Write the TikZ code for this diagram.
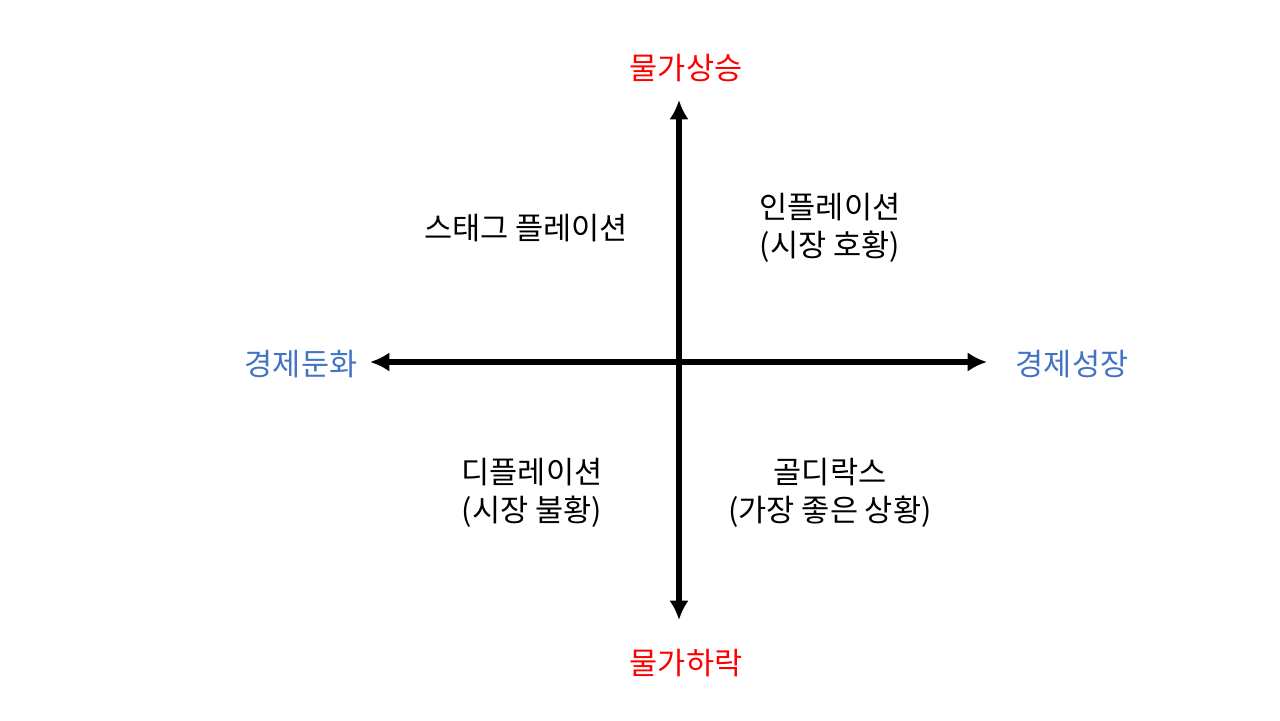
\documentclass[tikz,border=0pt]{standalone}
\usepackage{fontspec}
\setmainfont{Noto Sans CJK KR}
\usetikzlibrary{positioning,arrows.meta}
\definecolor{axisred}{RGB}{255,0,0}
\definecolor{axisblue}{RGB}{68,114,196}
\tikzset{
  axis/.style={line width=3.6pt,{Latex[length=11pt,width=11pt]}-{Latex[length=11pt,width=11pt]}},
  quad/.style={font=\fontsize{17.4pt}{22pt}\selectfont,align=center},
  redlabel/.style={font=\fontsize{17.4pt}{21pt}\selectfont,text=axisred},
  bluelabel/.style={font=\fontsize{17.4pt}{21pt}\selectfont,text=axisblue}
}
\begin{document}
\begin{tikzpicture}
 \useasboundingbox (0,0) rectangle (25.6,14.4);

 %Coordinates
 \coordinate (center) at (13.58,7.16);
 \coordinate (top) at (13.58,12.4);
 \coordinate (bottom) at (13.58,2.0);
 \coordinate (left) at (7.4,7.16);
 \coordinate (right) at (19.74,7.16);

 %Axis
 \draw[axis] (bottom) -- (top);
 \draw[axis] (left) -- (right);

 %Names
 \node (up) [redlabel] at (13.72,13.04) {물가상승};
 \node (down) [redlabel] at (13.72,1.14) {물가하락};
 \node (slow) [bluelabel] at (6.02,7.12) {경제둔화};
 \node (grow) [bluelabel] at (21.44,7.12) {경제성장};

 %Quadrants
 \node (stag) [quad] at (10.52,9.84) {스태그 플레이션};
 \node (infl) [quad] at (16.6,9.84) {인플레이션\\(시장 호황)};
 \node (defl) [quad] at (10.64,4.54) {디플레이션\\(시장 불황)};
 \node (gold) [quad] at (16.6,4.54) {골디락스\\(가장 좋은 상황)};
\end{tikzpicture}
\end{document}
